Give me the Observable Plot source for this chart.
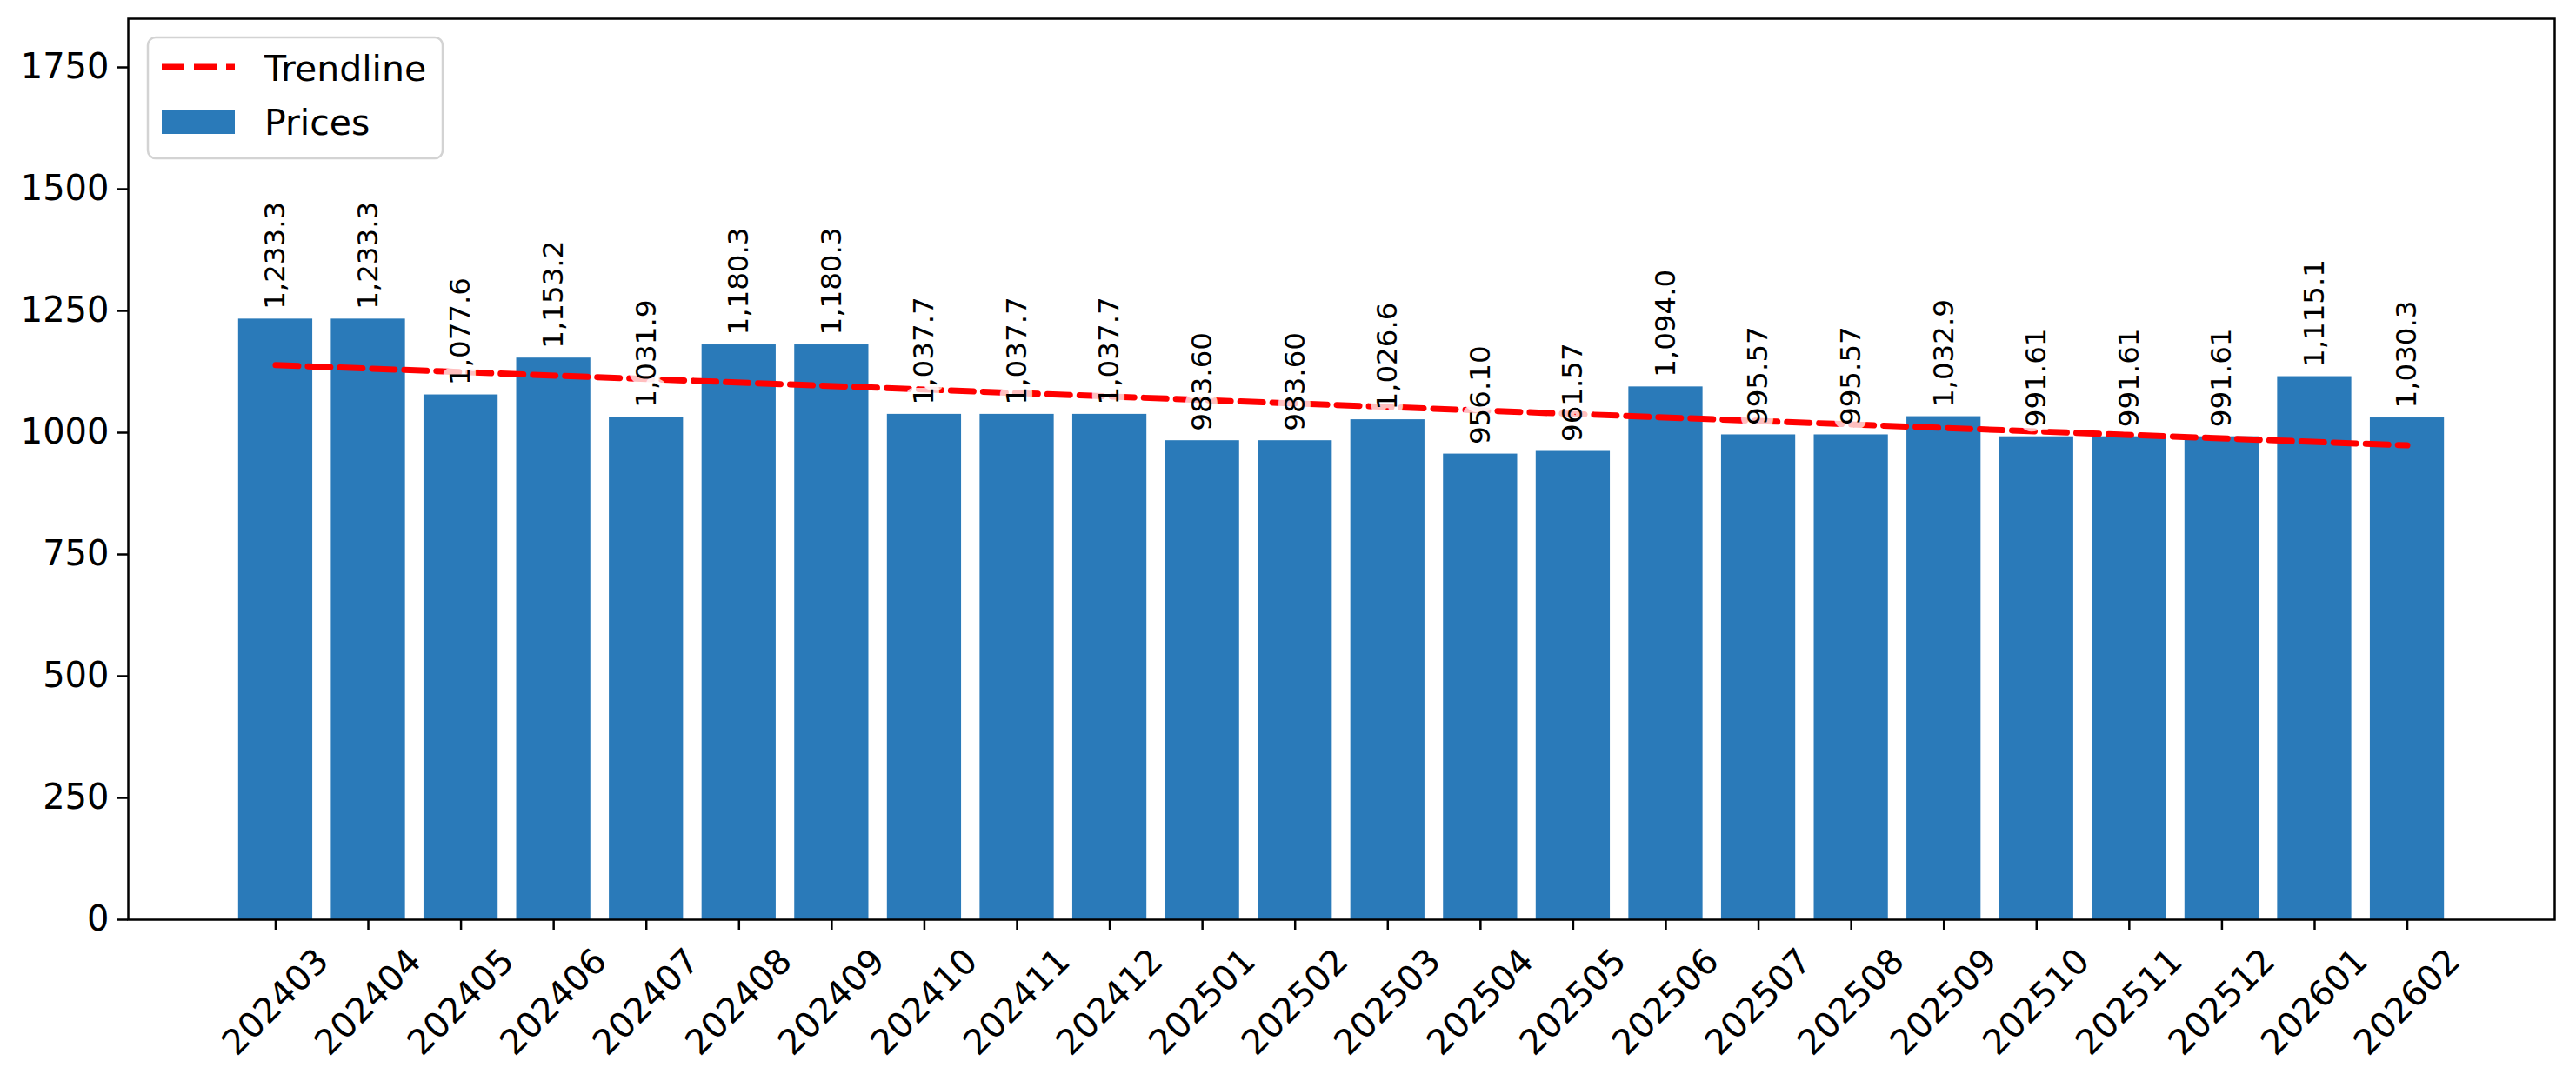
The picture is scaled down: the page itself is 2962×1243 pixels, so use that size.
<!DOCTYPE html>
<html><head><meta charset="utf-8">
<script src="https://cdn.jsdelivr.net/npm/d3@7"></script>
<script src="https://cdn.jsdelivr.net/npm/@observablehq/plot@0.6"></script>
<style>
body{margin:0;background:#fff;font-family:"DejaVu Sans",sans-serif;}
#wrap{position:relative;width:2962px;height:1243px;}
#wrap > svg{position:absolute;left:0;top:0;}
</style></head><body>
<div id="wrap"></div>
<script>
const months = ["202403","202404","202405","202406","202407","202408","202409","202410","202411","202412",
  "202501","202502","202503","202504","202505","202506","202507","202508","202509","202510","202511","202512",
  "202601","202602"];
const prices = [1233.3,1233.3,1077.6,1153.2,1031.9,1180.3,1180.3,1037.7,1037.7,1037.7,
  983.60,983.60,1026.6,956.10,961.57,1094.0,995.57,995.57,1032.9,991.61,991.61,991.61,
  1115.1,1030.3];
const yTicks = [0,250,500,750,1000,1250,1500,1750];
const legendNames = ["Trendline","Prices"];
const barColor = "#2a7ab9";
const trendColor = "#ff0000";

const data = months.map((m,i)=>({month:m, i, price:prices[i]}));
const fmt = d3.format(",.5r");

const chart = Plot.plot({
  width:2962, height:1243,
  marginLeft:147, marginRight:25, marginTop:21, marginBottom:186,
  style:{fontFamily:"DejaVu Sans", fontSize:"40px", color:"black", background:"white", overflow:"visible"},
  x:{type:"linear", domain:[-1.59, months.length - 1 + 1.59]},
  y:{domain:[0,1850]},
  marks:[
    Plot.rectY(data,{x1:d=>d.i-0.4, x2:d=>d.i+0.4, y1:0, y2:"price", fill:barColor}),
    Plot.linearRegressionY(data,{x:"i", y:"price", stroke:trendColor, strokeWidth:7, strokeDasharray:"26,11", ci:0}),
    Plot.text(data,{x:"i", y:"price", text:d=>fmt(d.price), rotate:-90, textAnchor:"start", lineAnchor:"middle",
      dy:-11, fontSize:32.5, fill:"black", stroke:"white", strokeOpacity:0.75, strokeWidth:14, paintOrder:"stroke"}),
    Plot.axisY({ticks:yTicks, tickSize:12, tickPadding:10, fontSize:40, label:null, strokeWidth:2.5, tickFormat:d=>String(d)}),
    Plot.axisX({ticks:d3.range(months.length), tickSize:12, tickFormat:()=>"", label:null, strokeWidth:2.5}),
    Plot.text(data,{x:"i", frameAnchor:"bottom", dy:95, text:"month", rotate:-45, textAnchor:"middle", lineAnchor:"middle", fontSize:40, fill:"black"}),
    Plot.frame({stroke:"black", strokeWidth:2.5})
  ]
});
const wrap = document.getElementById("wrap");
wrap.appendChild(chart);

// legend overlay
const ns = "http://www.w3.org/2000/svg";
const lg = document.createElementNS(ns,"svg");
lg.setAttribute("width",2962); lg.setAttribute("height",1243);
lg.style.pointerEvents="none";
lg.innerHTML = `
  <rect x="170" y="43" width="339" height="139" rx="9" ry="9" fill="white" fill-opacity="0.8" stroke="#d3d3d3" stroke-width="2.5"/>
  <line x1="186" x2="270" y1="77" y2="77" stroke="${trendColor}" stroke-width="7" stroke-dasharray="26,11"/>
  <text x="304" y="93" font-family="DejaVu Sans" font-size="41" fill="black">${legendNames[0]}</text>
  <rect x="186" y="126" width="84" height="28" fill="${barColor}"/>
  <text x="304" y="155" font-family="DejaVu Sans" font-size="41" fill="black">${legendNames[1]}</text>
`;
wrap.appendChild(lg);
</script>
</body></html>
